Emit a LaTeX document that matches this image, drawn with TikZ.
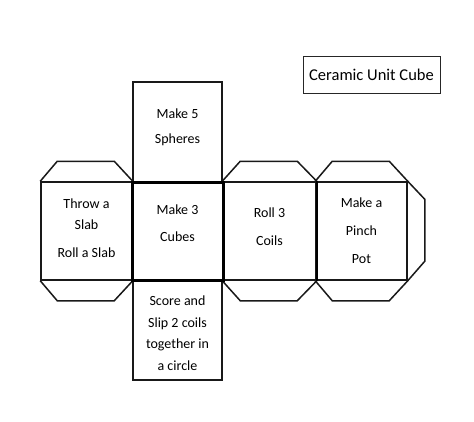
\documentclass[tikz,border=0pt]{standalone}
\usepackage{fontspec}
\setmainfont{Carlito}
\begin{document}
\begin{tikzpicture}[x=1pt,y=-1pt,
  face/.style={draw=black!90,line width=1.5pt,minimum width=#1,minimum height=98pt,inner sep=0pt},
  face/.default=91pt,
  flap/.style={draw=black!90,line width=1.5pt,line join=miter},
  thick face/.style={draw=black,line width=3pt,minimum width=91pt,minimum height=98pt,inner sep=0pt},
  txt/.style={anchor=base,font=\fontsize{14}{17}\selectfont,text=black,inner sep=0pt},
  title/.style={draw=black!85,line width=1pt,minimum width=137pt,minimum height=37pt,inner sep=0pt,font=\fontsize{16.5}{19}\selectfont}]
\useasboundingbox (0,0) rectangle (474,421);
% faces
\node[face] (l) at (86.5,231) {};
\node[face=93pt] (r1) at (269.5,231) {};
\node[face] (r2) at (361.5,231) {};
\node[face=89pt,minimum height=100pt] (t) at (177.5,132) {};
\node[face=89pt,minimum height=100pt] (b) at (177.5,330) {};
% flaps
\draw[flap] (l.north west) -- ++(17,-20) -- ++(57,0) -- (l.north east);
\draw[flap] (l.south west) -- ++(17,20) -- ++(57,0) -- (l.south east);
\draw[flap] (r1.north west) -- ++(18,-20) -- ++(57,0) -- (r1.north east);
\draw[flap] (r1.south west) -- ++(18,20) -- ++(57,0) -- (r1.south east);
\draw[flap] (r2.north west) -- ++(17,-20) -- ++(57,0) -- (r2.north east);
\draw[flap] (r2.south west) -- ++(17,20) -- ++(57,0) -- (r2.south east);
\draw[flap] (r2.north east) -- ++(17,18) -- ++(0,62) -- (r2.south east);
\draw[draw=black,line width=2.2pt] (r1.north east) -- (r1.south east);
% centre
\node[thick face] (c) at (177.5,231) {};
% texts
\node[txt] (l1) at (86.5,208) {Throw a};
\node[txt] (l2) at (86.5,229) {Slab};
\node[txt] (l3) at (86.5,257) {Roll a Slab};
\node[txt] (c1) at (177.5,214) {Make 3};
\node[txt] (c2) at (177.5,241) {Cubes};
\node[txt] (a1) at (269.5,217) {Roll 3};
\node[txt] (a2) at (269.5,245) {Coils};
\node[txt] (p1) at (361.5,207) {Make a};
\node[txt] (p2) at (361.5,235) {Pinch};
\node[txt] (p3) at (361.5,263) {Pot};
\node[txt] (t1) at (177.5,118) {Make 5};
\node[txt] (t2) at (177.5,143) {Spheres};
\node[txt] (b1) at (177.5,305) {Score and};
\node[txt] (b2) at (177.5,327) {Slip 2 coils};
\node[txt] (b3) at (177.5,348) {together in};
\node[txt] (b4) at (177.5,370) {a circle};
\node[title] (ti) at (371.5,74.5) {Ceramic Unit Cube};
\end{tikzpicture}
\end{document}
